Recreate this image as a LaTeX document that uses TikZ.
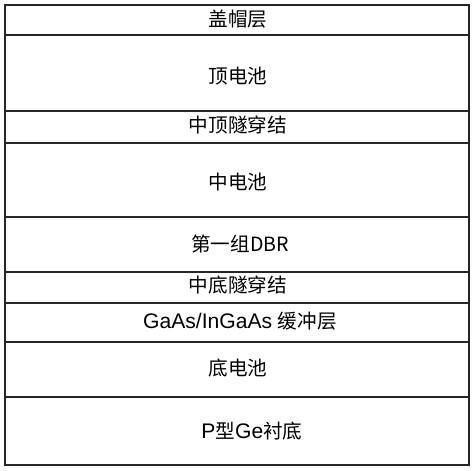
\documentclass[tikz,border=0pt]{standalone}
\usepackage{fontspec}
\setmainfont{Liberation Sans}
\newfontfamily\cjk{Noto Sans CJK SC}[Scale=0.93]
\begin{document}
\begin{tikzpicture}[x=0.03cm,y=-0.03cm,
    layerline/.style={line width=1.7pt, black!85},
    layertext/.style={font=\fontsize{18}{21}\selectfont, inner sep=0pt}]
  \useasboundingbox (0,0) rectangle (474,470);
  % outline and interfaces
  \draw[layerline] (5,5) rectangle (469,465);
  \foreach \y in {35,111,143,217,272,303,342,397}
    \draw[layerline] (5,\y) -- (469,\y);
  % layer names
  \node[layertext] (cap)     at (238,19)  {\cjk 盖帽层};
  \node[layertext] (top)     at (238,76)  {\cjk 顶电池};
  \node[layertext] (tjtop)   at (238,125) {\cjk 中顶隧穿结};
  \node[layertext] (middle)  at (238,182) {\cjk 中电池};
  \node[layertext] (dbr)     at (240,244) {\cjk 第一组DBR};
  \node[layertext] (tjbot)   at (238,285) {\cjk 中底隧穿结};
  \node[layertext] (buffer)  at (240,321) {GaAs/InGaAs {\cjk 缓冲层}};
  \node[layertext] (bottom)  at (238,368) {\cjk 底电池};
  \node[layertext] (subst)   at (252,431) {P{\cjk 型}Ge{\cjk 衬底}};
\end{tikzpicture}
\end{document}
